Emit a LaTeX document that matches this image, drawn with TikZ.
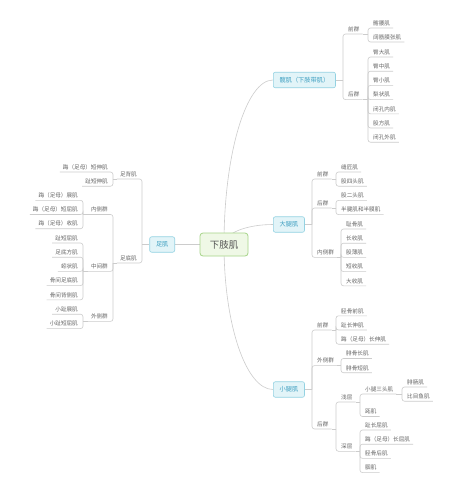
\documentclass[tikz,border=0pt]{standalone}
\usepackage{fontspec}
\setmainfont{Noto Sans CJK SC}
\usetikzlibrary{backgrounds}
\definecolor{linec}{HTML}{CCCCCC}
\definecolor{txt}{HTML}{666666}
\definecolor{boxfill}{HTML}{E2F4F8}
\definecolor{boxdraw}{HTML}{93D2E2}
\definecolor{boxtxt}{HTML}{3C9EC0}
\definecolor{rootfill}{HTML}{EFF8E6}
\definecolor{rootdraw}{HTML}{A6D488}
\definecolor{roottxt}{HTML}{555555}
\newcommand\rkids[2]{\foreach \c in {#2}{\draw[rk] (#1) |- (\c.south east);}}
\newcommand\lkids[2]{\foreach \c in {#2}{\draw[rk] (#1) |- (\c.south west);}}
\begin{document}
\begin{tikzpicture}[x=1pt,y=-1pt,
 conn/.style={draw=linec,line width=0.6pt},
 rk/.style={conn,rounded corners=2.5pt},
 leaf/.style={text=txt,font=\fontsize{5.6}{6}\selectfont,inner xsep=3pt,inner ysep=2pt},
 rl/.style={leaf,anchor=south west},
 ll/.style={leaf,anchor=south east},
 box/.style={draw=boxdraw,fill=boxfill,text=boxtxt,rounded corners=2pt,font=\fontsize{6.2}{7}\selectfont,inner xsep=6.3pt,minimum height=15.5pt,line width=0.6pt},
 root/.style={draw=rootdraw,fill=rootfill,text=roottxt,rounded corners=3pt,font=\fontsize{9.5}{11}\selectfont,minimum width=48pt,minimum height=23pt,line width=0.8pt}
]
\useasboundingbox (0,0) rectangle (474,491);
% root
\node[root] (root) at (224,244.5) {下肢肌};
% hip
\node[box,anchor=west] (hip) at (273,80) {髋肌（下肢带肌）};
\coordinate (jH) at (343,80);
\node[rl] (hq) at (345,34) {前群};
\node[rl] (hh) at (345,99.6) {后群};
\coordinate (jHq) at (368,34);
\node[rl] (h1) at (370,28) {髂腰肌};
\node[rl] (h2) at (370,42) {阔筋膜张肌};
\coordinate (jHh) at (368,99.6);
\node[rl] (h3) at (370,57) {臀大肌};
\node[rl] (h4) at (370,71.2) {臀中肌};
\node[rl] (h5) at (370,85.4) {臀小肌};
\node[rl] (h6) at (370,99.6) {梨状肌};
\node[rl] (h7) at (370,113.8) {闭孔内肌};
\node[rl] (h8) at (370,128) {股方肌};
\node[rl] (h9) at (370,142.2) {闭孔外肌};
% thigh
\node[box,anchor=west] (thigh) at (273,224.5) {大腿肌};
\coordinate (jT) at (312,224.5);
\node[rl] (tq) at (314,179) {前群};
\node[rl] (th) at (314,208) {后群};
\node[rl] (tn) at (314,257.4) {内侧群};
\coordinate (jTq) at (336,179);
\node[rl] (t1) at (338,172) {缝匠肌};
\node[rl] (t2) at (338,186.2) {股四头肌};
\coordinate (jTh) at (336,208);
\node[rl] (t3) at (338,200.4) {股二头肌};
\node[rl] (t4) at (338,214.6) {半腱肌和半膜肌};
\coordinate (jTn) at (341,257.4);
\node[rl] (t5) at (343,229) {耻骨肌};
\node[rl] (t6) at (343,243.2) {长收肌};
\node[rl] (t7) at (343,257.4) {股薄肌};
\node[rl] (t8) at (343,271.6) {短收肌};
\node[rl] (t9) at (343,285.8) {大收肌};
% leg
\node[box,anchor=west] (leg) at (273,389.5) {小腿肌};
\coordinate (jL) at (312,389.5);
\node[rl] (lq) at (314,330) {前群};
\node[rl] (lw) at (314,365.6) {外侧群};
\node[rl] (lh) at (314,429) {后群};
\coordinate (jLq) at (336,330);
\node[rl] (l1) at (338,315.8) {胫骨前肌};
\node[rl] (l2) at (338,330) {趾长伸肌};
\node[rl] (l3) at (338,344.2) {踇（足母）长伸肌};
\coordinate (jLw) at (341,365.6);
\node[rl] (l4) at (343,358.5) {腓骨长肌};
\node[rl] (l5) at (343,372.7) {腓骨短肌};
\coordinate (jLh) at (336,429);
\node[rl] (ls) at (338,402) {浅层};
\node[rl] (ld) at (338,451.3) {深层};
\coordinate (jLs) at (360,402);
\node[rl] (l6) at (362,394) {小腿三头肌};
\node[rl] (l7) at (362,416.5) {跖肌};
\coordinate (jLst) at (402,394);
\node[rl] (l8) at (404,387) {腓肠肌};
\node[rl] (l9) at (404,401.2) {比目鱼肌};
\coordinate (jLd) at (360,451.3);
\node[rl] (l10) at (362,430) {趾长屈肌};
\node[rl] (l11) at (362,444.2) {踇（足母）长屈肌};
\node[rl] (l12) at (362,458.4) {胫骨后肌};
\node[rl] (l13) at (362,472.6) {腘肌};
% foot
\node[box,anchor=east] (foot) at (175,244.5) {足肌};
\coordinate (jF) at (142,244.5);
\node[ll] (fb) at (140,179) {足背肌};
\node[ll] (fd) at (140,263) {足底肌};
\coordinate (jFb) at (113,179);
\node[ll] (f1) at (111,172) {踇（足母）短伸肌};
\node[ll] (f2) at (111,186.2) {趾短伸肌};
\coordinate (jFd) at (113,263);
\node[ll] (fn) at (111,214.5) {内侧群};
\node[ll] (fm) at (111,271.4) {中间群};
\node[ll] (fw) at (111,321.4) {外侧群};
\coordinate (jFn) at (83,214.5);
\node[ll] (f3) at (81,200.3) {踇（足母）展肌};
\node[ll] (f4) at (81,214.5) {踇（足母）短屈肌};
\node[ll] (f5) at (81,228.7) {踇（足母）收肌};
\coordinate (jFm) at (83,271.4);
\node[ll] (f6) at (81,243) {趾短屈肌};
\node[ll] (f7) at (81,257.2) {足底方肌};
\node[ll] (f8) at (81,271.4) {蚓状肌};
\node[ll] (f9) at (81,285.6) {骨间足底肌};
\node[ll] (f10) at (81,299.8) {骨间背侧肌};
\coordinate (jFw) at (83,321.4);
\node[ll] (f11) at (81,314.2) {小趾展肌};
\node[ll] (f12) at (81,328.6) {小趾短屈肌};
\begin{scope}[on background layer]
\fill[white] (0,0) rectangle (474,491);
% main curves
\draw[conn] (root.center) .. controls +(0,-90.5) and +(-27,0) .. (hip.west);
\draw[conn] (root.center) .. controls +(0,-11) and +(-27,0) .. (thigh.west);
\draw[conn] (root.center) .. controls +(0,80) and +(-27,0) .. (leg.west);
\draw[conn] (root.center) -- (foot.east);
% hip
\draw[conn] (hip.east) -- (jH);
\rkids{jH}{hq,hh}
\draw[conn] (hq.south east) -- (jHq);
\rkids{jHq}{h1,h2}
\draw[conn] (hh.south east) -- (jHh);
\rkids{jHh}{h3,h4,h5,h6,h7,h8,h9}
% thigh
\draw[conn] (thigh.east) -- (jT);
\rkids{jT}{tq,th,tn}
\draw[conn] (tq.south east) -- (jTq);
\rkids{jTq}{t1,t2}
\draw[conn] (th.south east) -- (jTh);
\rkids{jTh}{t3,t4}
\draw[conn] (tn.south east) -- (jTn);
\rkids{jTn}{t5,t6,t7,t8,t9}
% leg
\draw[conn] (leg.east) -- (jL);
\rkids{jL}{lq,lw,lh}
\draw[conn] (lq.south east) -- (jLq);
\rkids{jLq}{l1,l2,l3}
\draw[conn] (lw.south east) -- (jLw);
\rkids{jLw}{l4,l5}
\draw[conn] (lh.south east) -- (jLh);
\rkids{jLh}{ls,ld}
\draw[conn] (ls.south east) -- (jLs);
\rkids{jLs}{l6,l7}
\draw[conn] (l6.south east) -- (jLst);
\rkids{jLst}{l8,l9}
\draw[conn] (ld.south east) -- (jLd);
\rkids{jLd}{l10,l11,l12,l13}
% foot
\draw[conn] (foot.west) -- (jF);
\lkids{jF}{fb,fd}
\draw[conn] (fb.south west) -- (jFb);
\lkids{jFb}{f1,f2}
\draw[conn] (fd.south west) -- (jFd);
\lkids{jFd}{fn,fm,fw}
\draw[conn] (fn.south west) -- (jFn);
\lkids{jFn}{f3,f4,f5}
\draw[conn] (fm.south west) -- (jFm);
\lkids{jFm}{f6,f7,f8,f9,f10}
\draw[conn] (fw.south west) -- (jFw);
\lkids{jFw}{f11,f12}
\end{scope}
\end{tikzpicture}
\end{document}
